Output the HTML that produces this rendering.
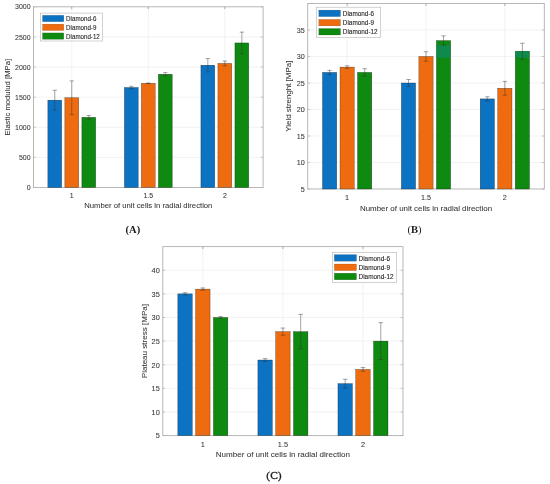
<!DOCTYPE html>
<html lang="en">
<head>
<meta charset="utf-8">
<title>Figure</title>
<style>
html,body{margin:0;padding:0;background:#fff;}
body{width:550px;height:484px;overflow:hidden;}
svg{display:block;}
svg text{font-family:"Liberation Sans",sans-serif;fill:#363636;stroke:#363636;stroke-width:0.06px;}
svg text.lg{fill:#262626;stroke:#262626;stroke-width:0.1px;}
svg text.cap{font-family:"Liberation Serif",serif;fill:#1c1c1c;stroke:none;}
</style>
</head>
<body>
<svg width="550" height="484" viewBox="0 0 550 484">
<rect width="550" height="484" fill="#ffffff"/>
<g id="chartA">
<line x1="33.5" x2="263.1" y1="157.38" y2="157.38" stroke="#ececec" stroke-width="0.7"/>
<line x1="33.5" x2="263.1" y1="127.27" y2="127.27" stroke="#ececec" stroke-width="0.7"/>
<line x1="33.5" x2="263.1" y1="97.15" y2="97.15" stroke="#ececec" stroke-width="0.7"/>
<line x1="33.5" x2="263.1" y1="67.03" y2="67.03" stroke="#ececec" stroke-width="0.7"/>
<line x1="33.5" x2="263.1" y1="36.92" y2="36.92" stroke="#ececec" stroke-width="0.7"/>
<line x1="71.77" x2="71.77" y1="6.8" y2="187.5" stroke="#ececec" stroke-width="0.7"/>
<line x1="148.3" x2="148.3" y1="6.8" y2="187.5" stroke="#ececec" stroke-width="0.7"/>
<line x1="224.83" x2="224.83" y1="6.8" y2="187.5" stroke="#ececec" stroke-width="0.7"/>
<rect x="33.5" y="6.8" width="229.6" height="180.7" fill="none" stroke="#b0b0b0" stroke-width="0.9"/>
<rect x="47.85" y="100.16" width="13.81" height="87.34" fill="#0c72c2" stroke="#000" stroke-opacity="0.6" stroke-width="0.45"/>
<rect x="64.86" y="97.75" width="13.81" height="89.75" fill="#ee6c0f" stroke="#000" stroke-opacity="0.6" stroke-width="0.45"/>
<rect x="81.87" y="117.33" width="13.81" height="70.17" fill="#0e8a10" stroke="#000" stroke-opacity="0.6" stroke-width="0.45"/>
<rect x="124.39" y="87.51" width="13.81" height="99.99" fill="#0c72c2" stroke="#000" stroke-opacity="0.6" stroke-width="0.45"/>
<rect x="141.39" y="83.3" width="13.81" height="104.2" fill="#ee6c0f" stroke="#000" stroke-opacity="0.6" stroke-width="0.45"/>
<rect x="158.4" y="74.26" width="13.81" height="113.24" fill="#0e8a10" stroke="#000" stroke-opacity="0.6" stroke-width="0.45"/>
<rect x="200.92" y="65.23" width="13.81" height="122.27" fill="#0c72c2" stroke="#000" stroke-opacity="0.6" stroke-width="0.45"/>
<rect x="217.93" y="63.42" width="13.81" height="124.08" fill="#ee6c0f" stroke="#000" stroke-opacity="0.6" stroke-width="0.45"/>
<rect x="234.94" y="42.94" width="13.81" height="144.56" fill="#0e8a10" stroke="#000" stroke-opacity="0.6" stroke-width="0.45"/>
<path d="M33.5 187.5h2.3M263.1 187.5h-2.3" stroke="#b0b0b0" stroke-width="0.7"/>
<path d="M33.5 157.38h2.3M263.1 157.38h-2.3" stroke="#b0b0b0" stroke-width="0.7"/>
<path d="M33.5 127.27h2.3M263.1 127.27h-2.3" stroke="#b0b0b0" stroke-width="0.7"/>
<path d="M33.5 97.15h2.3M263.1 97.15h-2.3" stroke="#b0b0b0" stroke-width="0.7"/>
<path d="M33.5 67.03h2.3M263.1 67.03h-2.3" stroke="#b0b0b0" stroke-width="0.7"/>
<path d="M33.5 36.92h2.3M263.1 36.92h-2.3" stroke="#b0b0b0" stroke-width="0.7"/>
<path d="M33.5 6.8h2.3M263.1 6.8h-2.3" stroke="#b0b0b0" stroke-width="0.7"/>
<path d="M71.77 187.5v-2.3M71.77 6.8v2.3" stroke="#8a8a8a" stroke-width="0.7"/>
<path d="M148.3 187.5v-2.3M148.3 6.8v2.3" stroke="#8a8a8a" stroke-width="0.7"/>
<path d="M224.83 187.5v-2.3M224.83 6.8v2.3" stroke="#8a8a8a" stroke-width="0.7"/>
<path d="M54.76 90.22V110.1M52.61 90.22h4.3M52.61 110.1h4.3" stroke="#333333" stroke-width="0.45" fill="none"/>
<path d="M71.77 80.89V114.62M69.62 80.89h4.3M69.62 114.62h4.3" stroke="#333333" stroke-width="0.45" fill="none"/>
<path d="M88.77 115.52V119.14M86.62 115.52h4.3M86.62 119.14h4.3" stroke="#333333" stroke-width="0.45" fill="none"/>
<path d="M131.29 86.31V88.72M129.14 86.31h4.3M129.14 88.72h4.3" stroke="#333333" stroke-width="0.45" fill="none"/>
<path d="M148.3 83V83.6M146.15 83h4.3M146.15 83.6h4.3" stroke="#333333" stroke-width="0.45" fill="none"/>
<path d="M165.31 72.64V75.89M163.16 72.64h4.3M163.16 75.89h4.3" stroke="#333333" stroke-width="0.45" fill="none"/>
<path d="M207.83 58.6V71.85M205.68 58.6h4.3M205.68 71.85h4.3" stroke="#333333" stroke-width="0.45" fill="none"/>
<path d="M224.83 61.01V65.83M222.68 61.01h4.3M222.68 65.83h4.3" stroke="#333333" stroke-width="0.45" fill="none"/>
<path d="M241.84 32.1V53.78M239.69 32.1h4.3M239.69 53.78h4.3" stroke="#333333" stroke-width="0.45" fill="none"/>
<text transform="translate(30.6 190.15) scale(1 1.07)" font-size="7" text-anchor="end">0</text>
<text transform="translate(30.6 160.03) scale(1 1.07)" font-size="7" text-anchor="end">500</text>
<text transform="translate(30.6 129.92) scale(1 1.07)" font-size="7" text-anchor="end">1000</text>
<text transform="translate(30.6 99.8) scale(1 1.07)" font-size="7" text-anchor="end">1500</text>
<text transform="translate(30.6 69.68) scale(1 1.07)" font-size="7" text-anchor="end">2000</text>
<text transform="translate(30.6 39.57) scale(1 1.07)" font-size="7" text-anchor="end">2500</text>
<text transform="translate(30.6 9.45) scale(1 1.07)" font-size="7" text-anchor="end">3000</text>
<text transform="translate(71.77 198.2) scale(1 1.07)" font-size="7" text-anchor="middle">1</text>
<text transform="translate(148.3 198.2) scale(1 1.07)" font-size="7" text-anchor="middle">1.5</text>
<text transform="translate(224.83 198.2) scale(1 1.07)" font-size="7" text-anchor="middle">2</text>
<text x="148.3" y="208.2" font-size="7.7" text-anchor="middle">Number of unit cells in radial direction</text>
<text transform="translate(10.3 97.15) rotate(-90)" font-size="7.7" text-anchor="middle">Elastic modulud [MPa]</text>
<rect x="40.6" y="13.1" width="61.9" height="27.9" fill="#fff" stroke="#b4b4b4" stroke-width="0.6"/>
<rect x="42.5" y="15.3" width="21.3" height="6.4" fill="#0c72c2" stroke="#000" stroke-opacity="0.4" stroke-width="0.3"/>
<text transform="translate(66.1 21.16) scale(1 1.08)" font-size="6.2" class="lg">Diamond-6</text>
<rect x="42.5" y="24.1" width="21.3" height="6.4" fill="#ee6c0f" stroke="#000" stroke-opacity="0.4" stroke-width="0.3"/>
<text transform="translate(66.1 29.96) scale(1 1.08)" font-size="6.2" class="lg">Diamond-9</text>
<rect x="42.5" y="32.9" width="21.3" height="6.4" fill="#0e8a10" stroke="#000" stroke-opacity="0.4" stroke-width="0.3"/>
<text transform="translate(66.1 38.76) scale(1 1.08)" font-size="6.2" class="lg">Diamond-12</text>
<text transform="translate(132.9 233) scale(0.96 1)" font-size="11" font-weight="bold" text-anchor="middle" class="cap">(A)</text>
</g>
<g id="chartB">
<line x1="307.7" x2="544.3" y1="162.5" y2="162.5" stroke="#ececec" stroke-width="0.7"/>
<line x1="307.7" x2="544.3" y1="136" y2="136" stroke="#ececec" stroke-width="0.7"/>
<line x1="307.7" x2="544.3" y1="109.5" y2="109.5" stroke="#ececec" stroke-width="0.7"/>
<line x1="307.7" x2="544.3" y1="83" y2="83" stroke="#ececec" stroke-width="0.7"/>
<line x1="307.7" x2="544.3" y1="56.5" y2="56.5" stroke="#ececec" stroke-width="0.7"/>
<line x1="307.7" x2="544.3" y1="30" y2="30" stroke="#ececec" stroke-width="0.7"/>
<line x1="347.13" x2="347.13" y1="3.5" y2="189" stroke="#ececec" stroke-width="0.7"/>
<line x1="426" x2="426" y1="3.5" y2="189" stroke="#ececec" stroke-width="0.7"/>
<line x1="504.87" x2="504.87" y1="3.5" y2="189" stroke="#ececec" stroke-width="0.7"/>
<rect x="307.7" y="3.5" width="236.6" height="185.5" fill="none" stroke="#b0b0b0" stroke-width="0.9"/>
<rect x="322.49" y="72.4" width="14.23" height="116.6" fill="#0c72c2" stroke="#000" stroke-opacity="0.6" stroke-width="0.45"/>
<rect x="340.02" y="67.1" width="14.23" height="121.9" fill="#ee6c0f" stroke="#000" stroke-opacity="0.6" stroke-width="0.45"/>
<rect x="357.54" y="72.4" width="14.23" height="116.6" fill="#0e8a10" stroke="#000" stroke-opacity="0.6" stroke-width="0.45"/>
<rect x="401.36" y="83" width="14.23" height="106" fill="#0c72c2" stroke="#000" stroke-opacity="0.6" stroke-width="0.45"/>
<rect x="418.88" y="56.5" width="14.23" height="132.5" fill="#ee6c0f" stroke="#000" stroke-opacity="0.6" stroke-width="0.45"/>
<rect x="436.41" y="40.6" width="14.23" height="148.4" fill="#0e8a10" stroke="#000" stroke-opacity="0.6" stroke-width="0.45"/>
<rect x="436.66" y="45.11" width="13.73" height="12.72" fill="#0e8b4c"/>
<rect x="480.23" y="98.9" width="14.23" height="90.1" fill="#0c72c2" stroke="#000" stroke-opacity="0.6" stroke-width="0.45"/>
<rect x="497.75" y="88.3" width="14.23" height="100.7" fill="#ee6c0f" stroke="#000" stroke-opacity="0.6" stroke-width="0.45"/>
<rect x="515.28" y="51.2" width="14.23" height="137.8" fill="#0e8a10" stroke="#000" stroke-opacity="0.6" stroke-width="0.45"/>
<rect x="515.53" y="51.45" width="13.73" height="6.38" fill="#0e8b4c"/>
<path d="M307.7 189h2.37M544.3 189h-2.37" stroke="#b0b0b0" stroke-width="0.7"/>
<path d="M307.7 162.5h2.37M544.3 162.5h-2.37" stroke="#b0b0b0" stroke-width="0.7"/>
<path d="M307.7 136h2.37M544.3 136h-2.37" stroke="#b0b0b0" stroke-width="0.7"/>
<path d="M307.7 109.5h2.37M544.3 109.5h-2.37" stroke="#b0b0b0" stroke-width="0.7"/>
<path d="M307.7 83h2.37M544.3 83h-2.37" stroke="#b0b0b0" stroke-width="0.7"/>
<path d="M307.7 56.5h2.37M544.3 56.5h-2.37" stroke="#b0b0b0" stroke-width="0.7"/>
<path d="M307.7 30h2.37M544.3 30h-2.37" stroke="#b0b0b0" stroke-width="0.7"/>
<path d="M347.13 189v-2.37M347.13 3.5v2.37" stroke="#8a8a8a" stroke-width="0.7"/>
<path d="M426 189v-2.37M426 3.5v2.37" stroke="#8a8a8a" stroke-width="0.7"/>
<path d="M504.87 189v-2.37M504.87 3.5v2.37" stroke="#8a8a8a" stroke-width="0.7"/>
<path d="M329.61 70.39V74.41M327.39 70.39h4.43M327.39 74.41h4.43" stroke="#333333" stroke-width="0.45" fill="none"/>
<path d="M347.13 65.78V68.42M344.92 65.78h4.43M344.92 68.42h4.43" stroke="#333333" stroke-width="0.45" fill="none"/>
<path d="M364.66 68.69V76.11M362.44 68.69h4.43M362.44 76.11h4.43" stroke="#333333" stroke-width="0.45" fill="none"/>
<path d="M408.47 79.5V86.5M406.26 79.5h4.43M406.26 86.5h4.43" stroke="#333333" stroke-width="0.45" fill="none"/>
<path d="M426 51.73V61.27M423.79 51.73h4.43M423.79 61.27h4.43" stroke="#333333" stroke-width="0.45" fill="none"/>
<path d="M443.53 35.83V45.37M441.31 35.83h4.43M441.31 45.37h4.43" stroke="#333333" stroke-width="0.45" fill="none"/>
<path d="M487.34 96.78V101.02M485.13 96.78h4.43M485.13 101.02h4.43" stroke="#333333" stroke-width="0.45" fill="none"/>
<path d="M504.87 81.41V95.19M502.65 81.41h4.43M502.65 95.19h4.43" stroke="#333333" stroke-width="0.45" fill="none"/>
<path d="M522.39 43.25V59.15M520.18 43.25h4.43M520.18 59.15h4.43" stroke="#333333" stroke-width="0.45" fill="none"/>
<text transform="translate(304.71 191.73) scale(1 1.07)" font-size="7.21" text-anchor="end">5</text>
<text transform="translate(304.71 165.23) scale(1 1.07)" font-size="7.21" text-anchor="end">10</text>
<text transform="translate(304.71 138.73) scale(1 1.07)" font-size="7.21" text-anchor="end">15</text>
<text transform="translate(304.71 112.23) scale(1 1.07)" font-size="7.21" text-anchor="end">20</text>
<text transform="translate(304.71 85.73) scale(1 1.07)" font-size="7.21" text-anchor="end">25</text>
<text transform="translate(304.71 59.23) scale(1 1.07)" font-size="7.21" text-anchor="end">30</text>
<text transform="translate(304.71 32.73) scale(1 1.07)" font-size="7.21" text-anchor="end">35</text>
<text transform="translate(347.13 200.02) scale(1 1.07)" font-size="7.21" text-anchor="middle">1</text>
<text transform="translate(426 200.02) scale(1 1.07)" font-size="7.21" text-anchor="middle">1.5</text>
<text transform="translate(504.87 200.02) scale(1 1.07)" font-size="7.21" text-anchor="middle">2</text>
<text x="426" y="210.73" font-size="7.93" text-anchor="middle">Number of unit cells in radial direction</text>
<text transform="translate(291.4 96.25) rotate(-90)" font-size="7.93" text-anchor="middle">Yield strenght [MPa]</text>
<rect x="316.6" y="7.2" width="64.1" height="30.1" fill="#fff" stroke="#b4b4b4" stroke-width="0.6"/>
<rect x="318.8" y="10.1" width="21.7" height="6.5" fill="#0c72c2" stroke="#000" stroke-opacity="0.4" stroke-width="0.3"/>
<text transform="translate(342.8 16.08) scale(1 1.08)" font-size="6.4" class="lg">Diamond-6</text>
<rect x="318.8" y="19.4" width="21.7" height="6.5" fill="#ee6c0f" stroke="#000" stroke-opacity="0.4" stroke-width="0.3"/>
<text transform="translate(342.8 25.38) scale(1 1.08)" font-size="6.4" class="lg">Diamond-9</text>
<rect x="318.8" y="28.5" width="21.7" height="6.5" fill="#0e8a10" stroke="#000" stroke-opacity="0.4" stroke-width="0.3"/>
<text transform="translate(342.8 34.48) scale(1 1.08)" font-size="6.4" class="lg">Diamond-12</text>
<text transform="translate(414.5 233) scale(0.96 1)" font-size="11" text-anchor="middle" class="cap">(<tspan font-weight="bold">B</tspan>)</text>
</g>
<g id="chartC">
<line x1="162.8" x2="403" y1="411.98" y2="411.98" stroke="#ececec" stroke-width="0.7"/>
<line x1="162.8" x2="403" y1="388.35" y2="388.35" stroke="#ececec" stroke-width="0.7"/>
<line x1="162.8" x2="403" y1="364.73" y2="364.73" stroke="#ececec" stroke-width="0.7"/>
<line x1="162.8" x2="403" y1="341.1" y2="341.1" stroke="#ececec" stroke-width="0.7"/>
<line x1="162.8" x2="403" y1="317.48" y2="317.48" stroke="#ececec" stroke-width="0.7"/>
<line x1="162.8" x2="403" y1="293.85" y2="293.85" stroke="#ececec" stroke-width="0.7"/>
<line x1="162.8" x2="403" y1="270.23" y2="270.23" stroke="#ececec" stroke-width="0.7"/>
<line x1="202.83" x2="202.83" y1="246.6" y2="435.6" stroke="#ececec" stroke-width="0.7"/>
<line x1="282.9" x2="282.9" y1="246.6" y2="435.6" stroke="#ececec" stroke-width="0.7"/>
<line x1="362.97" x2="362.97" y1="246.6" y2="435.6" stroke="#ececec" stroke-width="0.7"/>
<rect x="162.8" y="246.6" width="240.2" height="189" fill="none" stroke="#b0b0b0" stroke-width="0.9"/>
<rect x="177.82" y="293.85" width="14.45" height="141.75" fill="#0c72c2" stroke="#000" stroke-opacity="0.6" stroke-width="0.45"/>
<rect x="195.61" y="289.12" width="14.45" height="146.48" fill="#ee6c0f" stroke="#000" stroke-opacity="0.6" stroke-width="0.45"/>
<rect x="213.4" y="317.48" width="14.45" height="118.12" fill="#0e8a10" stroke="#000" stroke-opacity="0.6" stroke-width="0.45"/>
<rect x="257.88" y="360" width="14.45" height="75.6" fill="#0c72c2" stroke="#000" stroke-opacity="0.6" stroke-width="0.45"/>
<rect x="275.68" y="331.65" width="14.45" height="103.95" fill="#ee6c0f" stroke="#000" stroke-opacity="0.6" stroke-width="0.45"/>
<rect x="293.47" y="331.65" width="14.45" height="103.95" fill="#0e8a10" stroke="#000" stroke-opacity="0.6" stroke-width="0.45"/>
<rect x="337.95" y="383.62" width="14.45" height="51.98" fill="#0c72c2" stroke="#000" stroke-opacity="0.6" stroke-width="0.45"/>
<rect x="355.74" y="369.45" width="14.45" height="66.15" fill="#ee6c0f" stroke="#000" stroke-opacity="0.6" stroke-width="0.45"/>
<rect x="373.54" y="341.1" width="14.45" height="94.5" fill="#0e8a10" stroke="#000" stroke-opacity="0.6" stroke-width="0.45"/>
<path d="M162.8 435.6h2.41M403 435.6h-2.41" stroke="#b0b0b0" stroke-width="0.7"/>
<path d="M162.8 411.98h2.41M403 411.98h-2.41" stroke="#b0b0b0" stroke-width="0.7"/>
<path d="M162.8 388.35h2.41M403 388.35h-2.41" stroke="#b0b0b0" stroke-width="0.7"/>
<path d="M162.8 364.73h2.41M403 364.73h-2.41" stroke="#b0b0b0" stroke-width="0.7"/>
<path d="M162.8 341.1h2.41M403 341.1h-2.41" stroke="#b0b0b0" stroke-width="0.7"/>
<path d="M162.8 317.48h2.41M403 317.48h-2.41" stroke="#b0b0b0" stroke-width="0.7"/>
<path d="M162.8 293.85h2.41M403 293.85h-2.41" stroke="#b0b0b0" stroke-width="0.7"/>
<path d="M162.8 270.23h2.41M403 270.23h-2.41" stroke="#b0b0b0" stroke-width="0.7"/>
<path d="M202.83 435.6v-2.41M202.83 246.6v2.41" stroke="#8a8a8a" stroke-width="0.7"/>
<path d="M282.9 435.6v-2.41M282.9 246.6v2.41" stroke="#8a8a8a" stroke-width="0.7"/>
<path d="M362.97 435.6v-2.41M362.97 246.6v2.41" stroke="#8a8a8a" stroke-width="0.7"/>
<path d="M185.04 292.67V295.03M182.79 292.67h4.5M182.79 295.03h4.5" stroke="#333333" stroke-width="0.45" fill="none"/>
<path d="M202.83 287.94V290.31M200.58 287.94h4.5M200.58 290.31h4.5" stroke="#333333" stroke-width="0.45" fill="none"/>
<path d="M220.63 316.53V318.42M218.37 316.53h4.5M218.37 318.42h4.5" stroke="#333333" stroke-width="0.45" fill="none"/>
<path d="M265.11 358.58V361.42M262.86 358.58h4.5M262.86 361.42h4.5" stroke="#333333" stroke-width="0.45" fill="none"/>
<path d="M282.9 328.06V335.24M280.65 328.06h4.5M280.65 335.24h4.5" stroke="#333333" stroke-width="0.45" fill="none"/>
<path d="M300.69 314.36V348.94M298.44 314.36h4.5M298.44 348.94h4.5" stroke="#333333" stroke-width="0.45" fill="none"/>
<path d="M345.17 379.23V388.02M342.92 379.23h4.5M342.92 388.02h4.5" stroke="#333333" stroke-width="0.45" fill="none"/>
<path d="M362.97 367.56V371.34M360.72 367.56h4.5M360.72 371.34h4.5" stroke="#333333" stroke-width="0.45" fill="none"/>
<path d="M380.76 322.67V359.53M378.51 322.67h4.5M378.51 359.53h4.5" stroke="#333333" stroke-width="0.45" fill="none"/>
<text transform="translate(159.76 438.37) scale(1 1.07)" font-size="7.33" text-anchor="end">5</text>
<text transform="translate(159.76 414.75) scale(1 1.07)" font-size="7.33" text-anchor="end">10</text>
<text transform="translate(159.76 391.12) scale(1 1.07)" font-size="7.33" text-anchor="end">15</text>
<text transform="translate(159.76 367.5) scale(1 1.07)" font-size="7.33" text-anchor="end">20</text>
<text transform="translate(159.76 343.87) scale(1 1.07)" font-size="7.33" text-anchor="end">25</text>
<text transform="translate(159.76 320.25) scale(1 1.07)" font-size="7.33" text-anchor="end">30</text>
<text transform="translate(159.76 296.62) scale(1 1.07)" font-size="7.33" text-anchor="end">35</text>
<text transform="translate(159.76 273) scale(1 1.07)" font-size="7.33" text-anchor="end">40</text>
<text transform="translate(202.83 446.8) scale(1 1.07)" font-size="7.33" text-anchor="middle">1</text>
<text transform="translate(282.9 446.8) scale(1 1.07)" font-size="7.33" text-anchor="middle">1.5</text>
<text transform="translate(362.97 446.8) scale(1 1.07)" font-size="7.33" text-anchor="middle">2</text>
<text x="282.9" y="457.27" font-size="8.06" text-anchor="middle">Number of unit cells in radial direction</text>
<text transform="translate(147.1 341.1) rotate(-90)" font-size="8.06" text-anchor="middle">Plateau stress [MPa]</text>
<rect x="332.6" y="252.3" width="64.1" height="30" fill="#fff" stroke="#b4b4b4" stroke-width="0.6"/>
<rect x="334.3" y="254.6" width="22.2" height="6.6" fill="#0c72c2" stroke="#000" stroke-opacity="0.4" stroke-width="0.3"/>
<text transform="translate(358.5 260.65) scale(1 1.08)" font-size="6.45" class="lg">Diamond-6</text>
<rect x="334.3" y="264" width="22.2" height="6.6" fill="#ee6c0f" stroke="#000" stroke-opacity="0.4" stroke-width="0.3"/>
<text transform="translate(358.5 270.05) scale(1 1.08)" font-size="6.45" class="lg">Diamond-9</text>
<rect x="334.3" y="273.2" width="22.2" height="6.6" fill="#0e8a10" stroke="#000" stroke-opacity="0.4" stroke-width="0.3"/>
<text transform="translate(358.5 279.25) scale(1 1.08)" font-size="6.45" class="lg">Diamond-12</text>
<text transform="translate(274 478.5) scale(1.04 1)" font-size="11" text-anchor="middle" class="cap" style="stroke:#1c1c1c;stroke-width:0.3px">(C)</text>
</g>
</svg>
</body>
</html>
